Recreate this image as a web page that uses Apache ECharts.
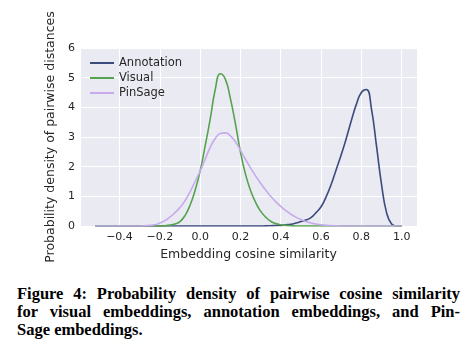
<!DOCTYPE html>
<html>
<head>
<meta charset="utf-8">
<script src="https://cdn.jsdelivr.net/npm/echarts@6/dist/echarts.min.js"></script>
<style>
  html, body { margin: 0; padding: 0; background: #ffffff; }
  #chart { position: absolute; left: 0; top: 0; width: 474px; height: 270px; }
  .caption {
    position: absolute; left: 17px; top: 285px; width: 443px;
    font-family: "Liberation Serif", serif; font-weight: bold; font-size: 16.5px;
    line-height: 18px; color: #000;
  }
  .caption .j { text-align: justify; text-align-last: justify; }
</style>
</head>
<body>
<div id="chart"></div>
<div class="caption">
  <div class="j">Figure 4: Probability density of pairwise cosine similarity</div>
  <div class="j">for visual embeddings, annotation embeddings, and Pin-</div>
  <div>Sage embeddings.</div>
</div>
<script>
// x grid (cosine similarity)
var xs = [-0.52, -0.4, -0.3, -0.275, -0.25, -0.225, -0.2, -0.175, -0.15, -0.125,
          -0.1, -0.075, -0.05, -0.025, 0, 0.025, 0.05, 0.075, 0.1, 0.125,
          0.15, 0.175, 0.2, 0.225, 0.25, 0.275, 0.3, 0.325, 0.35, 0.375,
          0.4, 0.425, 0.45, 0.475, 0.5, 0.525, 0.55, 0.575, 0.6, 0.625,
          0.65, 0.675, 0.7, 0.725, 0.75, 0.775, 0.8, 0.825, 0.85, 0.875,
          0.9, 0.925, 0.95, 0.975, 1.0];

// density values
var annotation = [0, 0, 0, 0, 0, 0, 0, 0, 0, 0,
                  0, 0, 0, 0, 0, 0, 0, 0, 0, 0,
                  0, 0, 0, 0, 0, 0, 0, 0.005, 0.01, 0.015,
                  0.02, 0.04, 0.06, 0.1, 0.15, 0.2, 0.28, 0.45, 0.65, 0.98,
                  1.4, 1.9, 2.4, 2.95, 3.55, 4.1, 4.5, 4.6, 3.95, 2.7,
                  1.4, 0.45, 0.07, 0, 0];
var visual = [0, 0, 0, 0, 0, 0, 0, 0.01, 0.03, 0.07,
              0.15, 0.35, 0.7, 1.2, 1.85, 2.7, 3.6, 4.6, 5.13, 4.95,
              4.3, 3.45, 2.5, 1.75, 1.2, 0.8, 0.5, 0.3, 0.16, 0.08,
              0.04, 0.02, 0.01, 0, 0, 0, 0, 0, 0, 0,
              0, 0, 0, 0, 0, 0, 0, 0, 0, 0,
              0, 0, 0, 0, 0];
var pinsage = [0, 0, 0, 0.01, 0.02, 0.04, 0.1, 0.18, 0.3, 0.45,
               0.62, 0.85, 1.15, 1.5, 1.85, 2.25, 2.65, 2.95, 3.12, 3.14,
               3.04, 2.84, 2.55, 2.25, 1.96, 1.69, 1.44, 1.21, 1.0, 0.82,
               0.66, 0.52, 0.4, 0.3, 0.22, 0.15, 0.1, 0.065, 0.04, 0.025,
               0.015, 0.005, 0, 0, 0, 0, 0, 0, 0, 0,
               0, 0, 0, 0, 0];

var xTicks = [-0.4, -0.2, 0.0, 0.2, 0.4, 0.6, 0.8, 1.0];

function pairs(ys) {
  return xs.map(function (x, i) { return [x, ys[i]]; });
}

var textColor = '#262626';
var fontFam = '"DejaVu Sans", sans-serif';

var option = {
  animation: false,
  backgroundColor: '#ffffff',
  grid: {
    left: 80, right: 57, top: 48, bottom: 44,
    show: true, backgroundColor: '#EAEAF2', borderWidth: 0
  },
  legend: {
    left: 90, top: 57, orient: 'vertical', padding: 0,
    icon: 'rect', itemWidth: 24, itemHeight: 2, itemGap: 3,
    textStyle: { fontFamily: fontFam, fontSize: 11.5, color: textColor },
    data: ['Annotation', 'Visual', 'PinSage']
  },
  xAxis: {
    type: 'value', min: -0.596, max: 1.076,
    name: 'Embedding cosine similarity', nameLocation: 'middle', nameGap: 19,
    nameTextStyle: { fontFamily: fontFam, fontSize: 12.5, color: textColor },
    axisLine: { show: false }, axisTick: { show: false },
    axisLabel: {
      fontFamily: fontFam, fontSize: 11, color: textColor, margin: 6,
      customValues: xTicks,
      formatter: function (v) { return (v < 0 ? '\u2212' : '') + Math.abs(v).toFixed(1); }
    },
    splitLine: { show: true, lineStyle: { color: '#ffffff', width: 1 } },
    splitNumber: 8
  },
  yAxis: {
    type: 'value', min: 0, max: 6, interval: 1,
    name: 'Probability density of pairwise distances', nameLocation: 'middle', nameGap: 18,
    nameTextStyle: { fontFamily: fontFam, fontSize: 12.5, color: textColor },
    axisLine: { show: false }, axisTick: { show: false },
    axisLabel: { fontFamily: fontFam, fontSize: 11, color: textColor, margin: 5 },
    splitLine: { show: true, lineStyle: { color: '#ffffff', width: 1 } }
  },
  series: [
    { name: 'Annotation', type: 'line', data: pairs(annotation), symbol: 'none',
      smooth: 0.5, color: '#3B4B7B', lineStyle: { width: 1.6 } },
    { name: 'Visual', type: 'line', data: pairs(visual), symbol: 'none',
      smooth: 0.5, color: '#55A24F', lineStyle: { width: 1.6 } },
    { name: 'PinSage', type: 'line', data: pairs(pinsage), symbol: 'none',
      smooth: 0.5, color: '#C6AAEC', lineStyle: { width: 1.6 } }
  ]
};

var chartObj = echarts.init(document.getElementById('chart'));
chartObj.setOption(option);
</script>
</body>
</html>
